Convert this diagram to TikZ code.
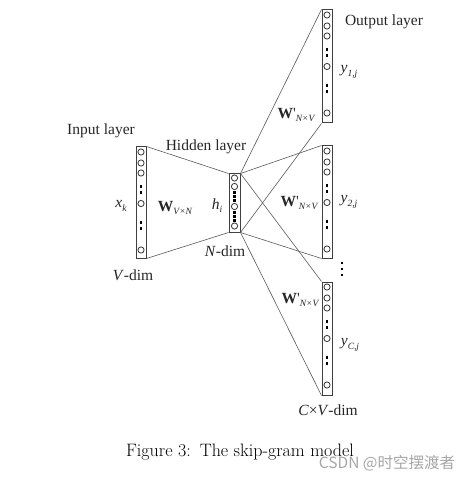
\documentclass[tikz,border=0pt]{standalone}
\usepackage{fontspec}
\usetikzlibrary{calc}
\newfontfamily\tnr{Liberation Serif}
\newfontfamily\cjkf{Noto Sans CJK SC}
\newcommand\subtx[1]{\raisebox{-0.45ex}{\fontsize{9.5}{10}\selectfont\itshape #1}}
\tikzset{
  layerbox/.style={draw=black!75, line width=1pt, minimum width=10pt, inner sep=0pt},
  unit/.style={circle, draw=black!80, line width=0.8pt, minimum size=6.2pt, inner sep=0pt},
  dotsq/.style={fill=black, minimum size=2.4pt, inner sep=0pt},
  conn/.style={draw=black!65, line width=0.6pt},
  lbl/.style={font=\tnr\fontsize{15.5}{18}\selectfont, inner sep=0pt, text=black!85},
}
\begin{document}
\begin{tikzpicture}[x=1pt,y=-1pt]
\useasboundingbox (0,0) rectangle (474,478);
% boxes
\node[layerbox, minimum height=111pt] (in) at (141,202.5) {};
\node[layerbox, minimum height=58pt, minimum width=11pt] (hid) at (234.5,203) {};
\node[layerbox, minimum height=113pt] (o1) at (327,66.5) {};
\node[layerbox, minimum height=112pt] (o2) at (327,202) {};
\node[layerbox, minimum height=113pt] (o3) at (327,338.5) {};
% units
\foreach \b in {in,o1,o2,o3}{
  \foreach \o in {5.5,16.5,26.5,57,103.5}
    \node[unit] (\b-c\o) at ($(\b.north)+(0,\o)$) {};
  \foreach \o in {40,46,76,82}
    \node[dotsq] (\b-d\o) at ($(\b.north)+(0,\o)$) {};
}
\foreach \o in {4.5,13,33,52.5}
  \node[unit] (hid-c\o) at ($(hid.north)+(0,\o)$) {};
\foreach \o in {19,23,27,39,43,47}
  \node[dotsq, minimum size=2.2pt] (hid-d\o) at ($(hid.north)+(0,\o)$) {};
% vertical dots between outputs
\foreach \yy in {263,269,275}
  \node[dotsq, minimum size=2.6pt] (vd\yy) at (342,\yy) {};
% connectors
\draw[conn] (in.north east) -- (hid.north west);
\draw[conn] (in.south east) -- (hid.south west);
\foreach \b in {o1,o2,o3}{
  \draw[conn] (hid.north east) -- (\b.north west);
  \draw[conn] (hid.south east) -- (\b.south west);
}
% labels
\node[lbl] (l-in) at (101,131) {Input layer};
\node[lbl] (l-hid) at (206,147) {Hidden layer};
\node[lbl] (l-out) at (384,22) {Output layer};
\node[lbl] (l-xk) at (121,206) {\textit{x}\subtx{k}};
\node[lbl] (l-w) at (175,208) {\textbf{W}\subtx{V×N}};
\node[lbl] (l-hi) at (217,206) {\textit{h}\subtx{i}};
\node[lbl] (l-nd) at (225,251) {\textit{N}-dim};
\node[lbl] (l-vd) at (133,275) {\textit{V}-dim};
\node[lbl] (l-y1) at (349,72) {\textit{y}\subtx{1,j}};
\node[lbl] (l-y2) at (349,202) {\textit{y}\subtx{2,j}};
\node[lbl] (l-yc) at (350,345) {\textit{y}\subtx{C,j}};
\node[lbl] (l-w1) at (296,115) {\textbf{W}'\subtx{N×V}};
\node[lbl] (l-w2) at (299,203) {\textbf{W}'\subtx{N×V}};
\node[lbl] (l-w3) at (300,300) {\textbf{W}'\subtx{N×V}};
\node[lbl] (l-cv) at (328,410) {\textit{C}×\textit{V}-dim};
\node[inner sep=0pt, font=\fontsize{18}{20}\selectfont, text=black] (cap) at (240,452) {Figure 3:\enspace The skip-gram model};
\node[inner sep=0pt, font=\cjkf\fontsize{15.5}{17}\selectfont, text=black!35] (wm) at (387,463) {CSDN @时空摆渡者};
\end{tikzpicture}
\end{document}
